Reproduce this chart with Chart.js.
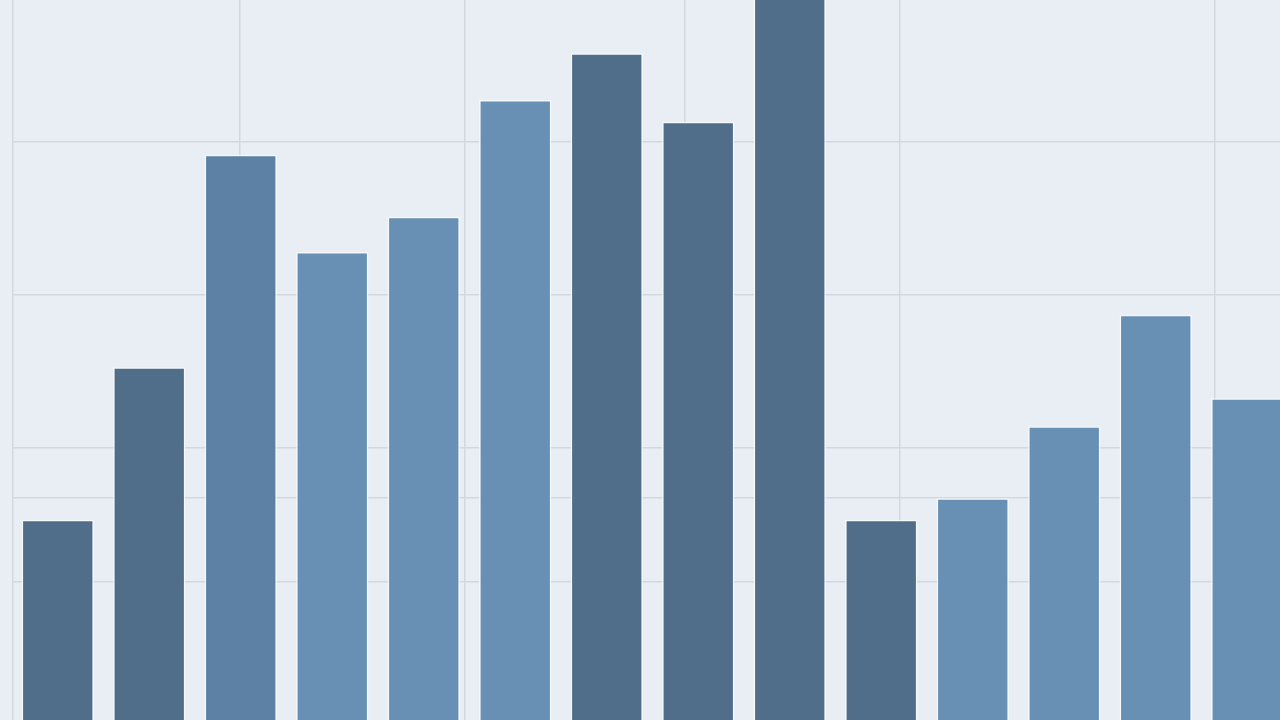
<!DOCTYPE html>
<html>
<head>
<meta charset="utf-8">
<script src="https://cdn.jsdelivr.net/npm/chart.js@4"></script>
<style>
  html, body { margin: 0; padding: 0; overflow: hidden; background: #e9eef4; width: 1280px; height: 720px; }
  #wrap { position: absolute; left: 12px; top: 0; width: 1281px; height: 720px; }
</style>
</head>
<body>
<div id="wrap"><canvas id="c"></canvas></div>
<script>
// ---- data ----
const categories = ['1','2','3','4','5','6','7','8','9','10','11','12','13','14'];
const values = [27.8, 49.0, 78.5, 65.0, 69.9, 86.1, 92.6, 83.1, 104, 27.8, 30.8, 40.8, 56.3, 44.7];
const tones = ['dark','dark','mid','light','light','light','dark','dark','dark','dark','light','light','light','light'];
const yGridTicks = [19.2, 30.8, 37.8, 59.0, 80.3];
const xGridTicks = [0.08, 17.8, 35.36, 52.54, 69.32, 93.91];

// ---- styles ----
const palette = { dark: '#506e8a', mid: '#5c81a5', light: '#6790b4' };

new Chart(document.getElementById('c'), {
  type: 'bar',
  data: {
    labels: categories,
    datasets: [{
      data: values,
      backgroundColor: tones.map(t => palette[t]),
      borderColor: 'rgba(248,250,253,0.85)',
      borderWidth: 1.5,
      categoryPercentage: 1,
      barPercentage: 0.79,
      xAxisID: 'x',
      yAxisID: 'y'
    }]
  },
  options: {
    responsive: true,
    maintainAspectRatio: false,
    animation: false,
    layout: { padding: 0 },
    plugins: { legend: { display: false }, tooltip: { enabled: false } },
    scales: {
      x: { display: false },
      x2: {
        type: 'linear', position: 'bottom', min: 0, max: 100, offset: false,
        afterBuildTicks: s => { s.ticks = xGridTicks.map(v => ({ value: v })); },
        ticks: { display: false },
        grid: { color: '#d2d8e0', lineWidth: 1.5, drawTicks: false, offset: false },
        border: { display: false }
      },
      y: {
        min: 0, max: 100,
        afterBuildTicks: s => { s.ticks = yGridTicks.map(v => ({ value: v })); },
        ticks: { display: false },
        grid: { color: '#d2d8e0', lineWidth: 1.5, drawTicks: false },
        border: { display: false }
      }
    }
  }
});
</script>
</body>
</html>
